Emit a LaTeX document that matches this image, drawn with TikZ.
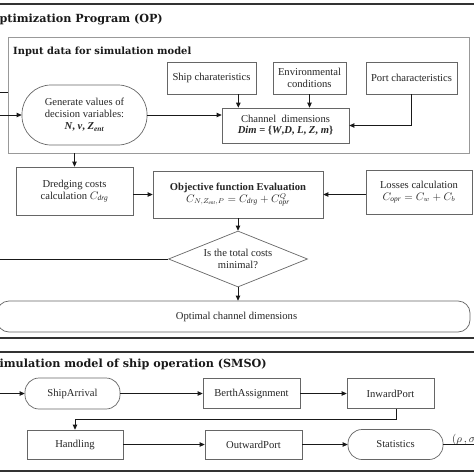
\documentclass[tikz,border=0pt]{standalone}
\usepackage{fontspec}
\setmainfont{Liberation Serif}
\newfontfamily\titlefont{DejaVu Serif}
\usetikzlibrary{arrows.meta,shapes.geometric}
\begin{document}
\begin{tikzpicture}[x=1pt,y=-1pt,
 lbl/.style={font=\fontsize{10.6}{12}\selectfont, text=black!85},
 box/.style={lbl, draw=black!60, line width=0.7pt, align=center, inner sep=1pt},
 term/.style={box, rounded corners=14pt},
 frame/.style={draw=black!80, line width=1.3pt, inner sep=0pt, outer sep=0pt},
 subframe/.style={draw=black!40, line width=0.8pt, inner sep=0pt, outer sep=0pt},
 conn/.style={draw=black!90, line width=0.9pt},
 arr/.style={conn, -{Triangle[length=5pt,width=4.5pt]}},
 ttl/.style={font=\titlefont\bfseries, text=black!90, inner sep=0pt}
]
\useasboundingbox (0,0) rectangle (474,474);
\fill[white] (0,0) rectangle (474,474);

% frames
\node[frame, minimum width=490pt, minimum height=334pt] (opframe) at (235,171) {};
\node[frame, minimum width=490pt, minimum height=119pt] (smframe) at (235,411.5) {};
\node[subframe, minimum width=461pt, minimum height=116pt] (inframe) at (238.5,95) {};

% titles
\node[ttl, font=\titlefont\bfseries\fontsize{11.2}{13}\selectfont, anchor=base east] (optitle) at (163,22) {Optimization Program (OP)};
\node[ttl, font=\titlefont\bfseries\fontsize{9.9}{12}\selectfont, anchor=base west] (intitle) at (13,54) {Input data for simulation model};
\node[ttl, font=\titlefont\bfseries\fontsize{11.2}{13}\selectfont, anchor=base east] (smtitle) at (267,367) {Simulation model of ship operation (SMSO)};

% input data
\node[box, minimum width=89pt, minimum height=32pt] (ship) at (211.5,78) {Ship charateristics};
\node[box, minimum width=73pt, minimum height=32pt] (env) at (309.5,78) {Environmental\\conditions};
\node[box, minimum width=91pt, minimum height=32pt] (port) at (411.5,78) {Port characteristics};
\node[box, minimum width=127pt, minimum height=35pt] (chan) at (285.5,125.5) {Channel\ \ dimensions\\[-1pt]\textbf{\textit{Dim} = \{\textit{W},\textit{D}, \textit{L}, \textit{Z}, \textit{m}\}}};
\node[box, rounded corners=29pt, minimum width=125pt, minimum height=60pt] (gen) at (84.5,115) {Generate values of\\decision variables:\\\textbf{\textit{N}, \textit{v}, \textit{Z}\textsubscript{\textit{ent}}}};

% evaluation
\node[box, minimum width=117pt, minimum height=48pt] (dredg) at (74.5,191) {Dredging costs\\calculation $C_{\mathit{drg}}$};
\node[box, minimum width=170pt, minimum height=47pt] (obj) at (238,194.5) {\textbf{Objective function Evaluation}\\$C_{N,Z_{\mathit{ent}},P} = C_{\mathit{drg}} + C^{Q}_{\mathit{opr}}$};
\node[box, minimum width=106pt, minimum height=44pt] (loss) at (419,192) {Losses calculation\\$C_{\mathit{opr}} = C_w + C_b$};
\node[draw=black!60, line width=0.7pt, diamond, minimum width=139pt, minimum height=56pt, inner sep=0pt] (dia) at (238,259) {};
\node[lbl, align=center] (diatxt) at (238,259) {Is the total costs\\minimal?};
\node[box, rounded corners=12pt, minimum width=473pt, minimum height=31pt] (opt) at (233.5,316.5) {\hspace*{6pt}Optimal channel dimensions};

% simulation
\node[term, minimum width=95pt, minimum height=31pt] (sarr) at (72.5,393.5) {ShipArrival};
\node[box, minimum width=97pt, minimum height=30pt] (berth) at (251.5,393.5) {BerthAssignment};
\node[box, minimum width=87pt, minimum height=30pt] (inw) at (390.5,393.5) {InwardPort};
\node[box, minimum width=96pt, minimum height=29pt] (hand) at (75,444.5) {Handling};
\node[box, minimum width=97pt, minimum height=29pt] (outw) at (253.5,444.5) {OutwardPort};
\node[term, minimum width=95pt, minimum height=30pt] (stat) at (395.5,444.5) {Statistics};
\node[lbl, anchor=base west, inner sep=0pt] (statlbl) at (452,442) {$(\rho\,,\sigma)$};

% outside ends
\coordinate (l1) at (-5,92);
\coordinate (l2) at (-5,115);
\coordinate (dl) at (-5,259);
\coordinate (sl) at (-5,393.5);
\coordinate (sr) at (480,444.5);

% connectors
\draw[conn] (l1) -- (l1 -| inframe.west);
\draw[arr] (l2) -- (gen.west);
\draw[arr] ([xshift=-18pt]ship.south east) -- ([xshift=-18pt]ship.south east |- chan.north);
\draw[arr] (env.south) -- (env.south |- chan.north);
\draw[arr] (port.south) |- (chan.east);
\draw[arr] (gen.east) -- (gen.east -| chan.west);
\draw[arr] (dredg.north |- inframe.south) -- (dredg.north);
\draw[arr] (dredg.east |- obj.west) -- (obj.west);
\draw[arr] (loss.west |- obj.east) -- (obj.east);
\draw[arr] (obj.south) -- (dia.north);
\draw[conn] (dia.west) -- (dl);
\draw[arr] (dia.south) -- (dia.south |- opt.north);

\draw[arr] (sl) -- (sarr.west);
\draw[arr] (sarr.east) -- (berth.west);
\draw[arr] (berth.east) -- (inw.west);
\draw[arr] ([xshift=5.5pt]inw.south) -- ++(0,11) -| (hand.north);
\draw[arr] (hand.east) -- (outw.west);
\draw[arr] (outw.east) -- (stat.west);
\draw[conn] (stat.east) -- (sr);
\end{tikzpicture}
\end{document}
